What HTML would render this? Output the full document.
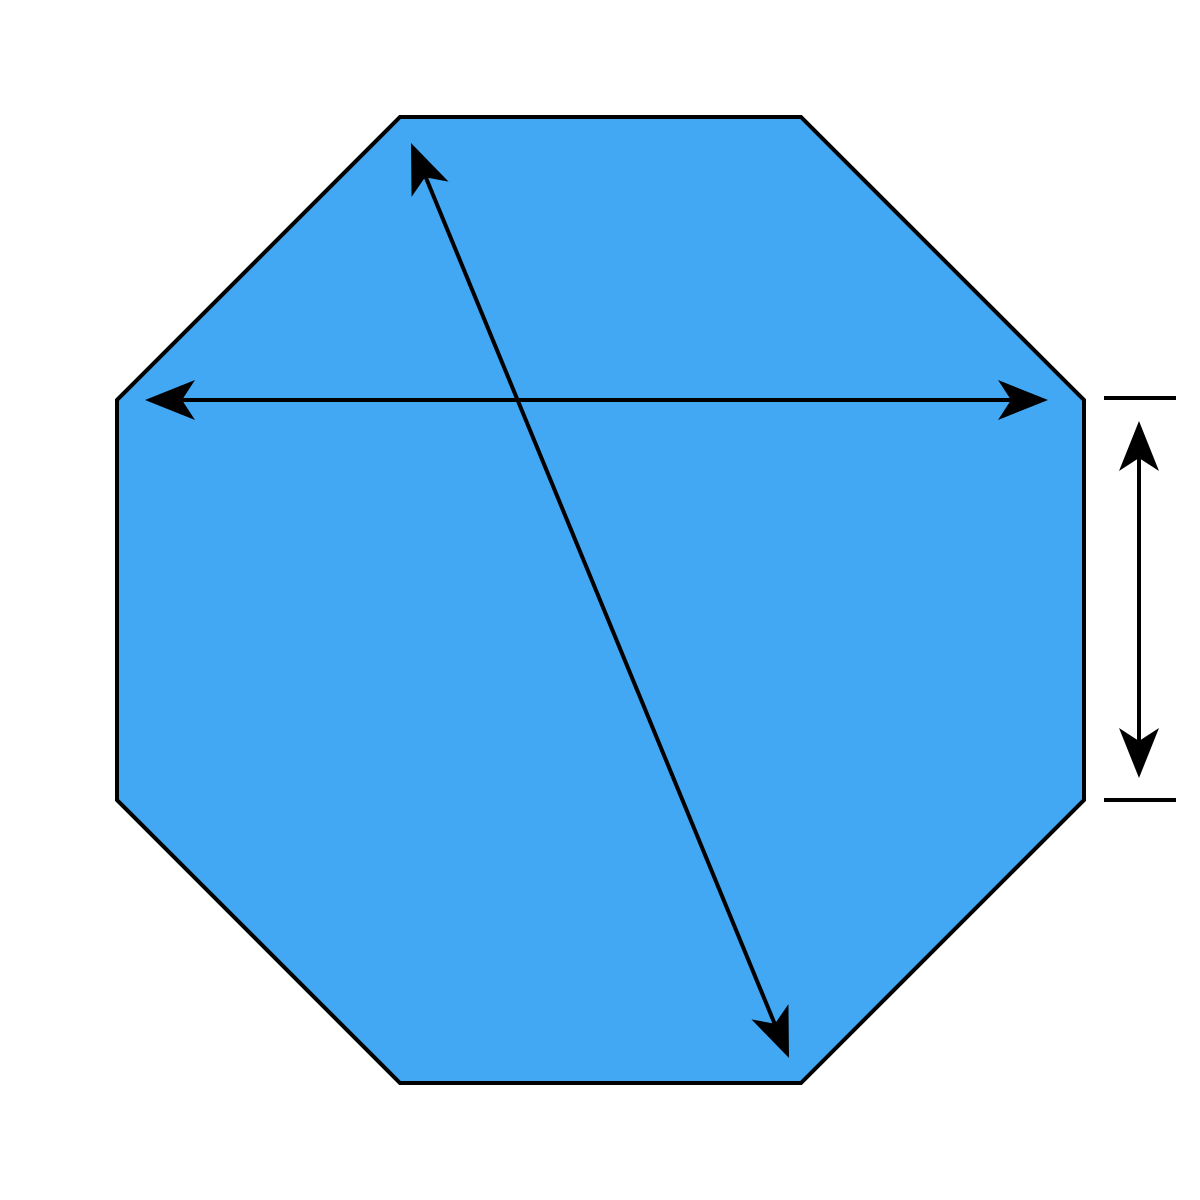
<!DOCTYPE html>
<html><head><style>html,body{margin:0;padding:0;background:#fff}svg{display:block}</style></head>
<body>
<svg width="1200" height="1200" viewBox="0 0 1200 1200" xmlns="http://www.w3.org/2000/svg">
<polygon points="400,117 801,117 1084,400 1084,800 801,1083 400,1083 117,800 117,400" fill="#42A8F4" stroke="#000" stroke-width="4" stroke-linejoin="miter"/>
<g stroke="#000" stroke-width="4">
<line x1="175" y1="400" x2="1018" y2="400"/>
<line x1="424" y1="173" x2="776" y2="1027"/>
<line x1="1139" y1="455" x2="1139" y2="745"/>
<line x1="1104" y1="398" x2="1176" y2="398"/>
<line x1="1104" y1="800" x2="1176" y2="800"/>
</g>
<defs><path id="ah" d="M0,0 L-50,-20 L-37,0 L-50,20 Z" fill="#000"/></defs>
<use href="#ah" transform="translate(145,400) rotate(180)"/>
<use href="#ah" transform="translate(1048,400)"/>
<use href="#ah" transform="translate(411,143) rotate(247.6)"/>
<use href="#ah" transform="translate(789,1058) rotate(67.6)"/>
<use href="#ah" transform="translate(1139,421) rotate(-90)"/>
<use href="#ah" transform="translate(1139,778) rotate(90)"/>
</svg>
</body></html>
